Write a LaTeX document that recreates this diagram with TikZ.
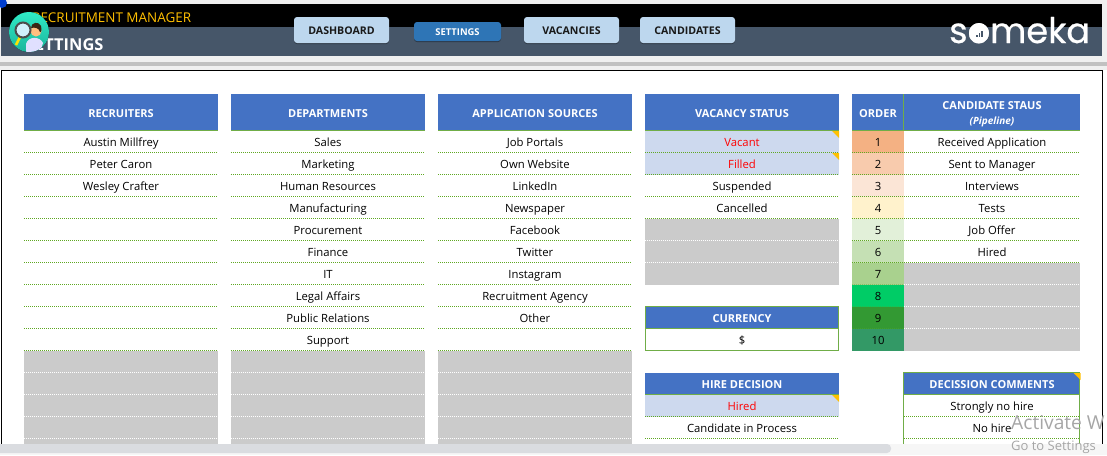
\documentclass[tikz,border=0pt]{standalone}
\usepackage{fontspec}
\setmainfont{Open Sans}
\newfontfamily\logofont[FakeBold=0.6]{Poppins}
\definecolor{hdr}{HTML}{4472C4}
\definecolor{grn}{HTML}{70AD47}
\definecolor{dotgrn}{HTML}{5FA822}
\definecolor{sel}{HTML}{CDD9EE}
\definecolor{graycell}{HTML}{CBCBCB}
\definecolor{slate}{HTML}{465669}
\definecolor{amber}{HTML}{FFC000}
\definecolor{btn}{HTML}{BDD7EE}
\definecolor{btnon}{HTML}{2E75B6}
\definecolor{chrome}{HTML}{F0F0F0}
\definecolor{thumb}{HTML}{DADCE0}
\definecolor{icontop}{HTML}{2FEBC6}
\definecolor{iconbot}{HTML}{1CB49C}
\tikzset{
  x=1pt,y=-1pt,
  celltext/.style={anchor=base,inner sep=0pt,font=\fontsize{11.3}{13}\selectfont,text=black},
  redtext/.style={celltext,text=red},
  hdrtext/.style={anchor=base,inner sep=0pt,font=\fontsize{11}{13}\bfseries\selectfont,text=white},
  btntext/.style={anchor=base,inner sep=0pt,font=\fontsize{10.6}{12}\bfseries\selectfont,text=black!90},
  hdrline/.style={grn,line width=1.5pt},
  dotg/.style={dotgrn,line width=1pt,dash pattern=on 1pt off 1pt},
  dotw/.style={white,line width=1pt,dash pattern=on 1pt off 1pt},
  flag/.style={fill=amber,draw=none},
  button/.style={fill=btn,draw=none,rounded corners=3pt},
  shade/.style={fill=black,opacity=.35,draw=none,rounded corners=3pt},
}
\begin{document}
\begin{tikzpicture}
\useasboundingbox (0,0) rectangle (1107,455);
% chrome
\fill[chrome] (0,0) rectangle (1107,70);
\fill[black] (1,4) rectangle (1102,27);
\fill[slate] (1,27) rectangle (1102,56);
\fill[graycell!95!black] (0,62) rectangle (1107,66);
\fill[white] (1,70) rectangle (1107,455);
\draw[black,line width=1pt] (1.5,444) -- (1.5,70.5) -- (1102.5,70.5) -- (1102.5,444);
% titles
\node[anchor=base west,inner sep=0pt,text=amber,font=\fontsize{13.45}{15}\selectfont] (title) at (32,22) {RECRUITMENT MANAGER};
\node[anchor=base west,inner sep=0pt,text=white,font=\fontsize{16.4}{18}\bfseries\selectfont] (page) at (26,50) {SETTINGS};
% marker dot
\begin{scope}
\clip (0,0) rectangle (8,8);
\fill[blue!70!cyan!80!black] (2,3) circle (5);
\end{scope}
% icon
\begin{scope}
\fill[top color=icontop,bottom color=iconbot] (29,32) circle (20);
\clip (29,32) circle (20);
\fill[blue!12] (26,44) .. controls (28,36) and (40,36) .. (43,43) -- (40,52) -- (26,52) -- cycle;
\fill[orange!50!white] (36,31) circle (5.5);
\fill[black!70!brown] (31,28) .. controls (31,22) and (39,21) .. (41,26) .. controls (42,30) and (41,33) .. (40,32) .. controls (39,28) and (35,27) .. (31,28) -- cycle;
\draw[yellow!85!orange,line width=2.6pt] (20,37) -- (16,45);
\fill[cyan!18] (23,30) circle (7);
\draw[black!70,line width=2pt] (23,30) circle (7.5);
\end{scope}
% buttons
\foreach \nm/\a/\b/\t in {dash/294/389/DASHBOARD,vac/524/619/VACANCIES,cand/640/735/CANDIDATES}{
  \fill[shade] (\a,18) rectangle (\b,44);
  \fill[button] (\a,17) rectangle (\b,43);
  \node[btntext] (\nm) at ({(\a+\b)/2},34) {\t};
}
\fill[shade] (414,23) rectangle (501,42);
\fill[button,fill=btnon] (414,22) rectangle (501,41);
\node[btntext,text=white,font=\fontsize{9.4}{10}\bfseries\selectfont] (sett) at (457.5,35) {SETTINGS};
% logo
\node[anchor=base west,inner sep=0pt,text=white,font=\logofont\fontsize{35.2}{36}\selectfont] (logo) at (949,43) {someka};
\fill[white] (979,33) circle (10);
\foreach \x/\h in {976/2,978.5/4,981/6}{ \fill[slate] (\x,37) rectangle (\x+1.6,37-\h); }
% grey fills
\foreach \a/\b in {24/218,231/425,438/632}{ \fill[graycell] (\a,351) rectangle (\b,444); }
\fill[graycell] (645,219) rectangle (839,285);
\fill[graycell] (904,263) rectangle (1080,351);
\fill[sel] (645,131) rectangle (839,175);
\fill[sel] (645,395) rectangle (839,417);
% order cells
\foreach \c/\n [count=\i] in {F4B183/1,F8CBAD/2,FBE5D6/3,FFF2CC/4,E2F0D9/5,C5E0B4/6,A9D18E/7,00CC66/8,339933/9,339966/10}{
  \definecolor{cc}{HTML}{\c}
  \fill[cc] (852,{109+22*\i}) rectangle (904,{131+22*\i});
  \node[celltext] (ord\i) at (878,{124+22*\i}) {\n};
}
% headers
\foreach \nm/\a/\b/\t in {h1/24/218/RECRUITERS,h2/231/425/DEPARTMENTS,h3/438/632/APPLICATION SOURCES,h4/645/839/VACANCY STATUS}{
  \fill[hdr] (\a,94) rectangle (\b,130);
  \draw[hdrline] (\a,130.5) -- (\b,130.5);
  \node[hdrtext] (\nm) at ({(\a+\b)/2},117) {\t};
}
\fill[hdr] (852,94) rectangle (1080,130);
\draw[hdrline] (852,130.5) -- (1080,130.5);
\draw[grn,line width=.8pt] (903.5,94) -- (903.5,130);
\node[hdrtext] (h5) at (878,117) {ORDER};
\node[hdrtext] (h6) at (992,109) {CANDIDATE STAUS};
\node[hdrtext,font=\fontsize{10}{12}\bfseries\itshape\selectfont] (h6b) at (992,124.5) {(Pipeline)};
% dotted rows
\foreach \a/\b in {24/218,231/425,438/632}{
  \foreach \y in {152.5,174.5,196.5,218.5,240.5,262.5,284.5,306.5,328.5,350.5}{ \draw[dotg] (\a,\y) -- (\b,\y); }
  \foreach \y in {372.5,394.5,416.5,438.5}{ \draw[dotw] (\a,\y) -- (\b,\y); }
}
\foreach \y in {152.5,174.5,196.5,218.5}{ \draw[dotg] (645,\y) -- (839,\y); }
\foreach \y in {240.5,262.5}{ \draw[dotw] (645,\y) -- (839,\y); }
\foreach \y in {152.5,174.5,196.5,218.5,240.5,262.5}{ \draw[dotg] (852,\y) -- (1080,\y); }
\foreach \y in {284.5,306.5,328.5}{ \draw[dotw] (904,\y) -- (1080,\y); \draw[dotg,opacity=.4] (852,\y) -- (904,\y); }
% column texts
\foreach \t [count=\i] in {Austin Millfrey,Peter Caron,Wesley Crafter}{ \node[celltext] (rec\i) at (121,{124+22*\i}) {\t}; }
\foreach \t [count=\i] in {Sales,Marketing,Human Resources,Manufacturing,Procurement,Finance,IT,Legal Affairs,Public Relations,Support}{ \node[celltext] (dep\i) at (328,{124+22*\i}) {\t}; }
\foreach \t [count=\i] in {Job Portals,Own Website,LinkedIn,Newspaper,Facebook,Twitter,Instagram,Recruitment Agency,Other}{ \node[celltext] (src\i) at (535,{124+22*\i}) {\t}; }
\node[redtext] (vs1) at (742,146) {Vacant};
\node[redtext] (vs2) at (742,168) {Filled};
\node[celltext] (vs3) at (742,190) {Suspended};
\node[celltext] (vs4) at (742,212) {Cancelled};
\foreach \t [count=\i] in {Received Application,Sent to Manager,Interviews,Tests,Job Offer,Hired}{ \node[celltext] (cs\i) at (992,{124+22*\i}) {\t}; }
% currency
\fill[hdr] (645,307) rectangle (839,329);
\draw[grn,line width=1pt] (645.5,306.5) rectangle (838.5,350.5);
\draw[grn,line width=1pt] (645,328.5) -- (839,328.5);
\node[hdrtext] (cur) at (742,322) {CURRENCY};
\node[celltext] (curv) at (742,344) {\$};
% hire decision
\fill[hdr] (645,373) rectangle (839,394);
\draw[hdrline] (645,394.5) -- (839,394.5);
\node[hdrtext] (hd) at (742,388) {HIRE DECISION};
\node[redtext] (hd1) at (742,410) {Hired};
\node[celltext] (hd2) at (742,432) {Candidate in Process};
\draw[dotg] (645,416.5) -- (839,416.5);
\draw[dotg] (645,438.5) -- (839,438.5);
% decision comments
\fill[hdr] (904,373) rectangle (1080,394);
\draw[grn,line width=1pt] (904,394.5) -- (1080,394.5);
\draw[grn,line width=1pt] (903.5,444) -- (903.5,372.5) -- (1079.5,372.5) -- (1079.5,444);
\node[hdrtext] (dc) at (992,388) {DECISSION COMMENTS};
\node[celltext] (dc1) at (992,410) {Strongly no hire};
\node[celltext] (dc2) at (992,432) {No hire};
\draw[dotg] (904,416.5) -- (1080,416.5);
\draw[dotg] (904,438.5) -- (1080,438.5);
% comment flags
\foreach \x/\y in {839/131,839/153,839/395,1080.5/373}{ \fill[flag] (\x,\y) -- (\x-7,\y) -- (\x,\y+7) -- cycle; }
% scrollbar
\fill[chrome!60!white] (0,444) rectangle (1107,455);
\fill[thumb,rounded corners=4pt] (-8,444) rectangle (891,453);
% watermark
\node[anchor=base west,inner sep=0pt,text=black!35,font=\fontsize{19.2}{22}\selectfont] (wm1) at (1011,429) {Activate W};
\node[anchor=base west,inner sep=0pt,text=black!35,font=\fontsize{13}{15}\selectfont] (wm2) at (1011,450) {Go to Settings};
\end{tikzpicture}
\end{document}
